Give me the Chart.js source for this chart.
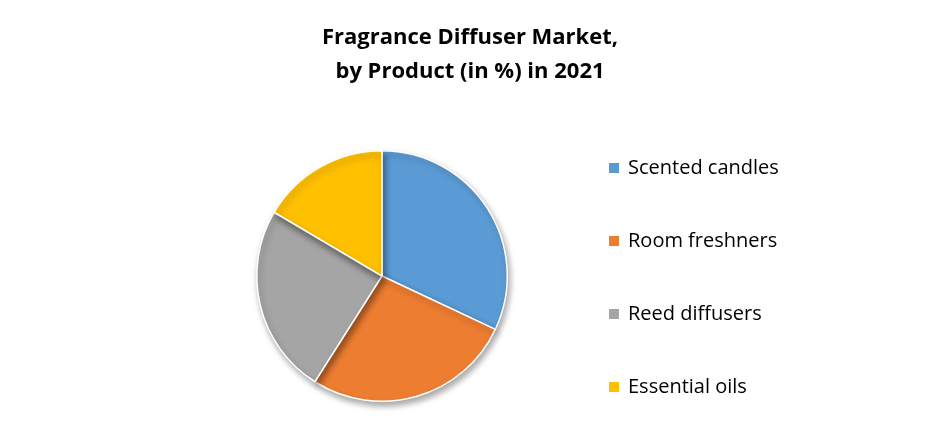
<!DOCTYPE html>
<html>
<head>
<meta charset="utf-8">
<script src="https://cdn.jsdelivr.net/npm/chart.js@4"></script>
<style>
  html, body { margin: 0; padding: 0; background: #fff; }
  #wrap { width: 940px; height: 447px; }
</style>
</head>
<body>
<div id="wrap"><canvas id="pie" width="940" height="447"></canvas></div>
<script>
const titleLines = ['Fragrance Diffuser Market,', 'by Product (in %) in 2021'];
const categories = ['Scented candles', 'Room freshners', 'Reed diffusers', 'Essential oils'];
const shares = [32, 27, 24.5, 16.5];
const colors = ['#5B9BD5', '#ED7D31', '#A5A5A5', '#FFC000'];

const FONT = '"Open Sans", "Liberation Sans", sans-serif';

// Title and legend drawn by hand so they sit exactly where the reference has them
const decorations = {
    id: 'decorations',
    beforeDatasetsDraw(chart) {
        const ctx = chart.ctx;
        ctx.save();
        ctx.shadowColor = 'rgba(0,0,0,0.35)';
        ctx.shadowBlur = 6;
        ctx.shadowOffsetX = 2;
        ctx.shadowOffsetY = 4;
    },
    afterDatasetsDraw(chart) {
        chart.ctx.restore();
    },
    afterDraw(chart) {
        const ctx = chart.ctx;
        ctx.save();
        ctx.fillStyle = '#000';
        ctx.textAlign = 'center';
        ctx.textBaseline = 'middle';
        ctx.font = `bold 22px ${FONT}`;
        titleLines.forEach((t, i) => ctx.fillText(t, 470, 38 + i * 34));

        ctx.textAlign = 'left';
        ctx.font = `20px ${FONT}`;
        categories.forEach((c, i) => {
            const y = 168 + i * 73;
            ctx.fillStyle = colors[i];
            ctx.fillRect(609, y - 5, 10, 10);
            ctx.fillStyle = '#000';
            ctx.fillText(c, 628, y);
        });
        ctx.restore();
    }
};

new Chart(document.getElementById('pie'), {
    type: 'pie',
    plugins: [decorations],
    data: {
        labels: categories,
        datasets: [{
            data: shares,
            backgroundColor: colors,
            borderColor: '#fff',
            borderWidth: 1.5
        }]
    },
    options: {
        responsive: false,
        animation: false,
        layout: { padding: { left: 253, right: 429, top: 150, bottom: 45 } },
        plugins: {
            legend: { display: false },
            title: { display: false },
            tooltip: { enabled: false }
        }
    }
});
</script>
</body>
</html>
